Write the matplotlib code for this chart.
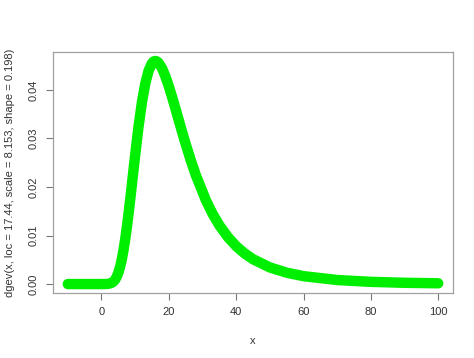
import numpy as np
import matplotlib
matplotlib.use("Agg")
import matplotlib.pyplot as plt

plt.rcParams['font.family'] = ['Liberation Sans', 'DejaVu Sans']

# density values
x_vals = [-10, -5, 0, 1, 2, 3, 3.5, 4, 4.5, 5, 5.5, 6, 6.5, 7, 7.5, 8, 8.5, 9,
          9.5, 10, 11, 12, 13, 14, 15, 15.5, 16, 16.5, 17, 18, 19, 20, 21, 22,
          23, 24, 25, 26.5, 28, 31, 33, 35, 37.5, 40, 42.5, 45, 50, 55, 60, 70,
          80, 90, 100]
dens = [0.0, 0.0, 0.0000003, 0.0000054, 0.000046, 0.000239, 0.000471, 0.000855,
        0.001449, 0.002304, 0.00347, 0.00497, 0.006828, 0.009021, 0.01153,
        0.01429, 0.01725, 0.02033, 0.02346, 0.02655, 0.03239, 0.03738, 0.04128,
        0.04397, 0.04549, 0.04585, 0.04596, 0.04585, 0.04554, 0.04441, 0.04276,
        0.04073, 0.03847, 0.03607, 0.03364, 0.03122, 0.02886, 0.02553, 0.02248,
        0.01728, 0.01446, 0.01211, 0.00971, 0.00781, 0.00631, 0.00512, 0.003427,
        0.002339, 0.001628, 0.000833, 0.000454, 0.000261, 0.000157]

x_ticks = [0, 20, 40, 60, 80, 100]
y_ticks = [0.00, 0.01, 0.02, 0.03, 0.04]

fig = plt.figure(figsize=(4.74, 3.58), dpi=100)
ax = fig.add_axes([0.1118, 0.1816, 0.8439, 0.6731])

ax.plot(x_vals, dens, color='#00ee00', lw=7.5, solid_capstyle='round',
        solid_joinstyle='round')

ax.set_xlim(-14.4, 104.4)
ax.set_ylim(-0.00184, 0.0478)
ax.set_xticks(x_ticks)
ax.set_yticks(y_ticks)
ax.set_yticklabels(["%.2f" % v for v in y_ticks], rotation=90, va='center')

for s in ax.spines.values():
    s.set_color('#a0a0a0')
    s.set_linewidth(0.9)
ax.tick_params(direction='out', length=5, width=0.8, color='#777777',
               labelsize=8, labelcolor='#333333', pad=5)

ax.set_xlabel("x", fontsize=8, color='#333333', labelpad=14)
ax.set_ylabel("dgev(x, loc = 17.44, scale = 8.153, shape = 0.198)",
              fontsize=8, color='#333333', labelpad=10)

fig.savefig("out.png", dpi=100)
